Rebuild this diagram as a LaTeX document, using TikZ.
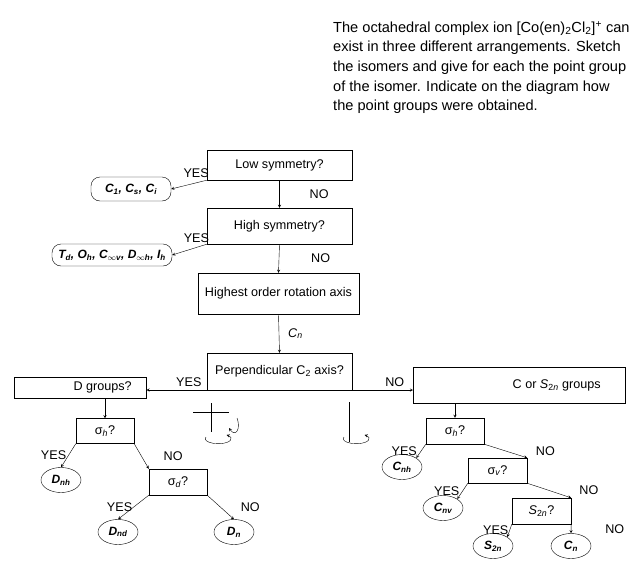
\documentclass[tikz,border=0pt]{standalone}
\usepackage{fontspec}
\setmainfont{Liberation Sans}
\usetikzlibrary{shapes.geometric}
\begin{document}
\begin{tikzpicture}[x=1pt,y=-1pt,
 box/.style={draw,inner sep=1pt,font=\fontsize{12.6}{14}\selectfont},
 oval/.style={draw,rounded corners=9pt,inner sep=2pt,font=\fontsize{12}{13}\selectfont\bfseries\itshape},
 ell/.style={draw,ellipse,minimum width=40pt,minimum height=25pt,inner sep=0pt,font=\fontsize{12}{13}\selectfont\bfseries\itshape},
 arr/.style={->,>=stealth},
 lab/.style={font=\fontsize{12.6}{14}\selectfont,inner sep=0pt}]
\useasboundingbox (0,0) rectangle (640,565);
\node[anchor=north west,align=left,inner sep=0pt,font=\fontsize{14.6}{19.6}\selectfont] (txt) at (333,21)
{The octahedral complex ion [Co(en)\textsubscript{2}Cl\textsubscript{2}]\textsuperscript{+} can\\
exist in three different arrangements. Sketch\\
the isomers and give for each the point group\\
of the isomer. Indicate on the diagram how\\
the point groups were obtained.};
% main column
\node[box,minimum width=145pt,minimum height=30pt] (b1) at (279.5,165) {\raisebox{-4pt}{Low symmetry?}};
\node[oval,minimum width=80pt,minimum height=24pt] (o1) at (131,189) {C\textsubscript{1}, C\textsubscript{s}, C\textsubscript{i}};
\node[box,minimum width=145pt,minimum height=36pt] (b2) at (279.5,226) {\raisebox{-6pt}{High symmetry?}};
\node[oval,minimum width=120pt,minimum height=22pt,inner sep=1pt] (o2) at (112,255) {T\textsubscript{d}, O\textsubscript{h}, C\textsubscript{$\infty$v}, D\textsubscript{$\infty$h}, I\textsubscript{h}};
\node[box,minimum width=161pt,minimum height=41pt] (b3) at (278.5,293.5) {\raisebox{-8pt}{Highest order rotation axis}};
\node[box,minimum width=145pt,minimum height=37pt] (b4) at (279.5,371.5) {\raisebox{-6pt}{Perpendicular C\textsubscript{2} axis?}};
\draw[arr] (b1.south west) -- (o1.east) node[lab,pos=0.3,above=5pt] {YES};
\draw[arr] (b1.south) -- (b2.north) node[lab,midway,right=30pt] {NO};
\draw[arr] (b2.south west) -- (o2.east) node[lab,pos=0.3,above=5pt] {YES};
\draw[arr] (b2.south) -- (b3.north) node[lab,midway,right=32pt] {NO};
\draw[arr] (b3.south) -- (b4.north) node[lab,midway,right=9pt] {\itshape C\textsubscript{n}};
% left D branch
\node[box,minimum width=132pt,minimum height=21pt,anchor=north west] (dg) at (14,377) {\hspace*{45pt}D groups?};
\coordinate (yl) at (207,390);
\coordinate (yr) at (352,390);
\draw[arr] (yl) -- (dg.east |- yl) node[lab,pos=0.3,above=3pt] {YES};
\node[box,minimum width=58pt,minimum height=25pt] (sh) at (105,431) {σ\textsubscript{\itshape h}?};
\draw[arr] (105,398) -- (sh.north);
\node[ell] (dnh) at (61,480) {D\textsubscript{nh}};
\node[box,minimum width=58pt,minimum height=26pt] (sd) at (178,482) {σ\textsubscript{\itshape d}?};
\draw[arr] (sh.south west) -- (dnh.north) node[lab,midway,left=2pt] {YES};
\draw[arr] (sh.south east) -- (sd.north west) node[lab,pos=0.5,right=22pt] {NO};
\node[ell] (dnd) at (118,532) {D\textsubscript{nd}};
\node[ell] (dn) at (234,532) {D\textsubscript{n}};
\draw[arr] (sd.south west) -- (dnd.north) node[lab,midway,left=1pt] {YES};
\draw[arr] (sd.south east) -- (dn.north) node[lab,midway,right=20pt] {NO};
% right C branch
\node[box,minimum width=212pt,minimum height=36pt,anchor=north west] (cg) at (413,367) {\hspace*{75pt}C or \textit{S}\textsubscript{2\textit{n}} groups};
\draw[arr] (yr) -- (cg.west |- yr) node[lab,pos=0.7,above=3pt] {NO};
\node[box,minimum width=58pt,minimum height=26pt] (shr) at (455,431) {σ\textsubscript{\itshape h}?};
\draw[arr] (455,403) -- (shr.north);
\node[ell] (cnh) at (402,467) {C\textsubscript{nh}};
\node[box,minimum width=59pt,minimum height=25pt] (sv) at (497.5,470.5) {σ\textsubscript{\itshape v}?};
\draw[arr] (shr.south west) -- (cnh.north east) node[lab,midway,left=4pt] {YES};
\draw[arr] (shr.south east) -- (sv.north east) node[lab,midway,right=30pt] {NO};
\node[ell] (cnv) at (443,508) {C\textsubscript{nv}};
\node[box,minimum width=59pt,minimum height=26pt] (s2) at (541.5,511) {\textit{S}\textsubscript{2\textit{n}}?};
\draw[arr] (sv.south west) -- (cnv.north east) node[lab,midway,left=3pt] {YES};
\draw[arr] (sv.south east) -- (s2.north east) node[lab,midway,right=30pt] {NO};
\node[ell] (s2n) at (493,546) {S\textsubscript{2n}};
\node[ell] (cn) at (571,546) {C\textsubscript{n}};
\draw[arr] (s2.south west) -- (s2n.north east) node[lab,midway,left=1pt] {YES};
\draw[arr] (s2.south east) -- (cn.north) node[lab,midway,right=34pt] {NO};
% rotation sketches
\draw (211,403) -- (211,432);
\draw (193,412) -- (229,412);
\draw[->,>=stealth] (206,437) arc[start angle=160,end angle=410,x radius=13pt,y radius=5pt];
\draw[->,>=stealth] (237,418) .. controls (241,428) and (236,438) .. (229,428);
\draw (349,402) -- (349,442);
\draw[->,>=stealth] (344,437) arc[start angle=160,end angle=410,x radius=13pt,y radius=5pt];
\end{tikzpicture}
\end{document}
